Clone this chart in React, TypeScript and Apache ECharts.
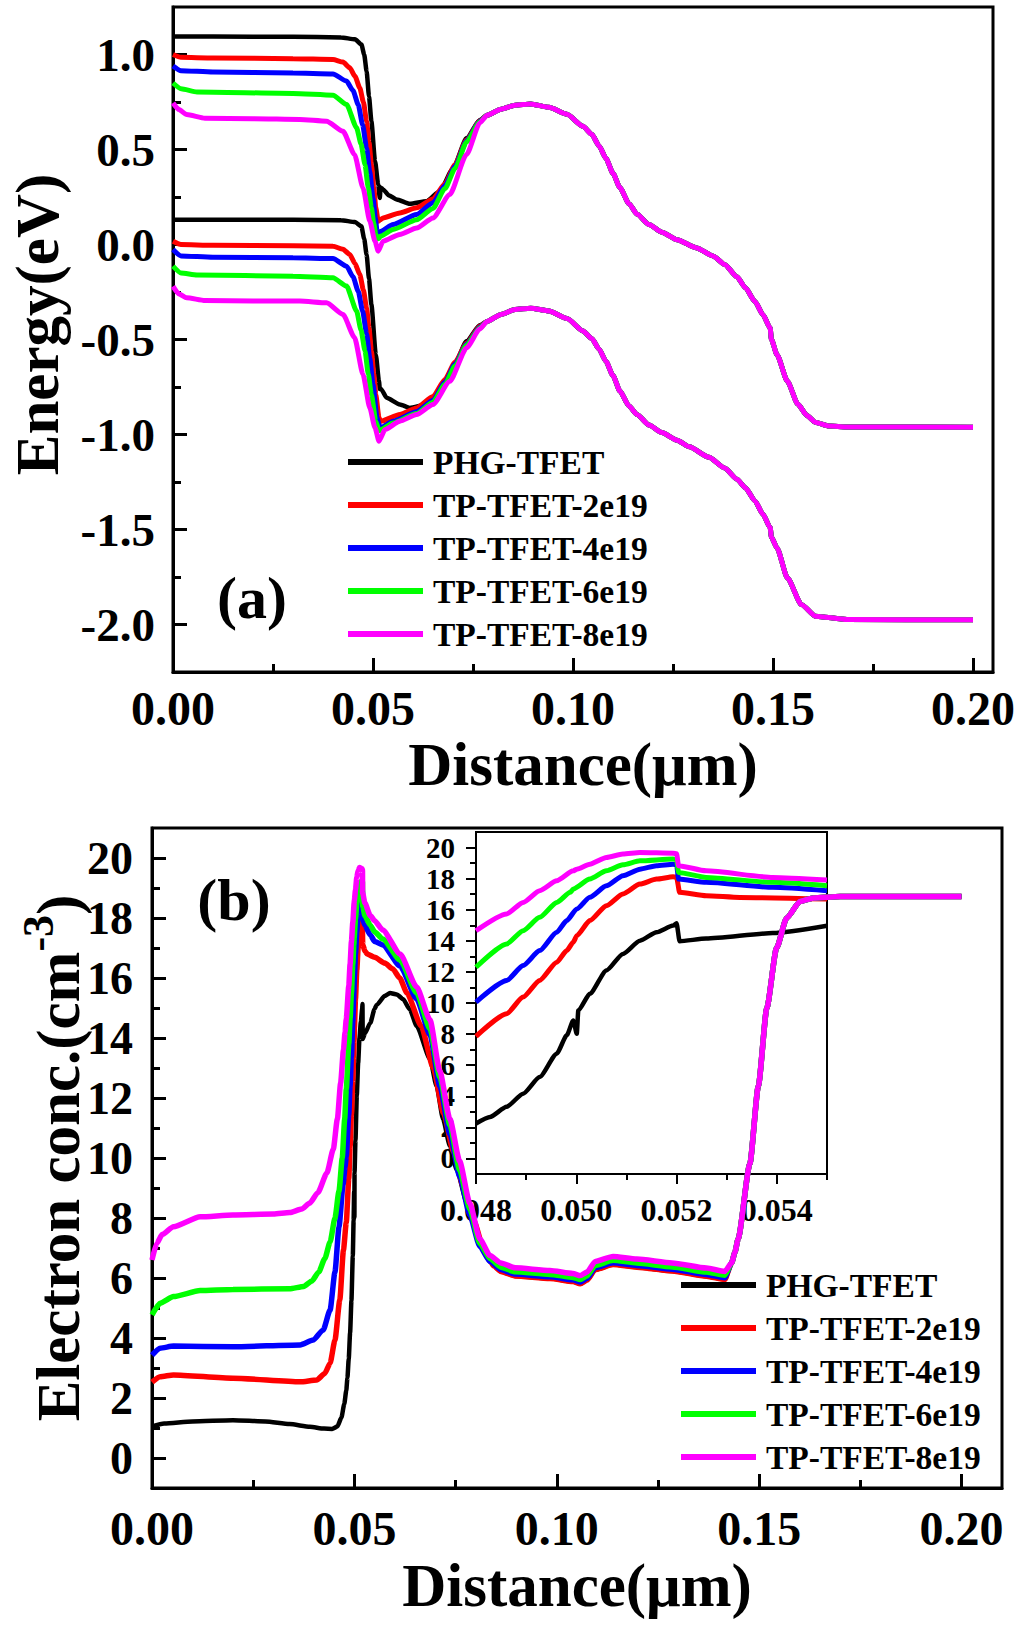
import React, { useEffect, useRef } from 'react';
import * as echarts from 'echarts';

const FONT = '"Liberation Serif", "Times New Roman", Times, serif';

const seriesNames = ['PHG-TFET', 'TP-TFET-2e19', 'TP-TFET-4e19', 'TP-TFET-6e19', 'TP-TFET-8e19'];
const seriesColors = ['#000000', '#ff0000', '#0000ff', '#00ff00', '#ff00ff'];

// ---------- tick values ----------
const aXTicks = [0, 0.05, 0.1, 0.15, 0.2];
const aXMinor = [0.025, 0.075, 0.125, 0.175];
const aYTicks = [-2.0, -1.5, -1.0, -0.5, 0.0, 0.5, 1.0];
const aYMinor = [-1.75, -1.25, -0.75, -0.25, 0.25, 0.75];
const bXTicks = [0, 0.05, 0.1, 0.15, 0.2];
const bXMinor = [0.025, 0.075, 0.125, 0.175];
const bYTicks = [0, 2, 4, 6, 8, 10, 12, 14, 16, 18, 20];
const bYMinor = [1, 3, 5, 7, 9, 11, 13, 15, 17, 19];
const iXTicks = [0.048, 0.05, 0.052, 0.054];
const iXMinor = [0.049, 0.051, 0.053, 0.055];
const iYTicks = [0, 2, 4, 6, 8, 10, 12, 14, 16, 18, 20];
const iYMinor = [1, 3, 5, 7, 9, 11, 13, 15, 17, 19];

// ---------- (a) energy bands [distance um, eV] ----------
const phgCB = [[0,1.095],[0.01,1.095],[0.03,1.093],[0.042,1.09],[0.0455,1.08],[0.0471,1.053],[0.0478,1.0],[0.0484,0.912],[0.049,0.78],[0.0496,0.649],[0.0505,0.44],[0.0513,0.316],[0.0517,0.245],[0.0519,0.3],[0.0525,0.29],[0.054,0.258],[0.0559,0.237],[0.0592,0.214],[0.0634,0.228],[0.0667,0.28],[0.07,0.4],[0.0734,0.56],[0.0767,0.655]];
const tp2CB = [[0,1.0],[0.002,0.985],[0.01,0.982],[0.03,0.978],[0.04,0.974],[0.0425,0.96],[0.0442,0.93],[0.0455,0.885],[0.0467,0.824],[0.0476,0.75],[0.0484,0.649],[0.049,0.54],[0.0496,0.42],[0.0502,0.3],[0.0507,0.193],[0.0513,0.123],[0.0518,0.13],[0.0525,0.14],[0.0567,0.166],[0.0609,0.193],[0.065,0.24],[0.068,0.32],[0.0705,0.42],[0.0734,0.55],[0.0767,0.65]];
const tp4CB = [[0,0.94],[0.002,0.915],[0.01,0.908],[0.03,0.903],[0.04,0.898],[0.0434,0.86],[0.045,0.81],[0.0463,0.737],[0.0474,0.63],[0.0484,0.508],[0.0492,0.38],[0.05,0.245],[0.0506,0.14],[0.051,0.07],[0.0515,0.05],[0.052,0.07],[0.055,0.105],[0.0609,0.158],[0.065,0.22],[0.068,0.31],[0.0705,0.41],[0.0734,0.545],[0.0767,0.648]];
const tp6CB = [[0,0.85],[0.002,0.82],[0.006,0.803],[0.03,0.795],[0.04,0.786],[0.0434,0.737],[0.0459,0.614],[0.047,0.53],[0.048,0.42],[0.0488,0.3],[0.0496,0.193],[0.0502,0.11],[0.0507,0.053],[0.0513,0.03],[0.052,0.045],[0.055,0.079],[0.0609,0.13],[0.065,0.19],[0.068,0.295],[0.0705,0.4],[0.0734,0.54],[0.0767,0.645]];
const tp8CB = [[0,0.745],[0.0015,0.71],[0.0034,0.684],[0.008,0.665],[0.02,0.662],[0.0317,0.658],[0.0384,0.649],[0.0425,0.596],[0.0454,0.473],[0.0475,0.298],[0.0492,0.123],[0.0505,0.017],[0.0513,-0.035],[0.0525,0.017],[0.0567,0.053],[0.0609,0.087],[0.065,0.14],[0.0692,0.263],[0.0734,0.474],[0.0767,0.64]];
const cbTail = [[0.0785,0.68],[0.082,0.712],[0.0855,0.733],[0.0894,0.74],[0.094,0.722],[0.0985,0.685],[0.1025,0.622],[0.1047,0.58],[0.1065,0.52],[0.1082,0.455],[0.11,0.375],[0.1117,0.3],[0.114,0.215],[0.116,0.16],[0.119,0.105],[0.1222,0.065],[0.126,0.025],[0.1309,-0.018],[0.135,-0.06],[0.1379,-0.105],[0.141,-0.17],[0.1431,-0.228],[0.1455,-0.3],[0.1475,-0.37],[0.1493,-0.44],[0.1496,-0.5],[0.151,-0.58],[0.1536,-0.72],[0.1562,-0.84],[0.1585,-0.9],[0.1605,-0.935],[0.164,-0.955],[0.1685,-0.96],[0.2,-0.962]];

const phgVB = [[0,0.13],[0.03,0.13],[0.042,0.128],[0.0455,0.118],[0.0471,0.096],[0.0478,0.03],[0.0484,-0.053],[0.049,-0.18],[0.0496,-0.316],[0.0507,-0.58],[0.0515,-0.72],[0.0517,-0.76],[0.052,-0.76],[0.0534,-0.807],[0.0567,-0.842],[0.0592,-0.86],[0.0634,-0.842],[0.0667,-0.772],[0.07,-0.65],[0.0734,-0.509],[0.0767,-0.425]];
const tp2VB = [[0,0.017],[0.002,0.0],[0.01,-0.004],[0.03,-0.006],[0.04,-0.009],[0.0425,-0.025],[0.0442,-0.053],[0.0455,-0.1],[0.0467,-0.158],[0.0476,-0.24],[0.0484,-0.334],[0.049,-0.44],[0.0496,-0.56],[0.0502,-0.68],[0.0507,-0.79],[0.0515,-0.912],[0.052,-0.93],[0.0567,-0.895],[0.0609,-0.86],[0.065,-0.8],[0.068,-0.71],[0.0705,-0.62],[0.0734,-0.52],[0.0767,-0.43]];
const tp4VB = [[0,-0.026],[0.002,-0.06],[0.01,-0.067],[0.03,-0.07],[0.04,-0.074],[0.0434,-0.114],[0.045,-0.17],[0.0463,-0.246],[0.0474,-0.35],[0.0484,-0.47],[0.0492,-0.6],[0.05,-0.737],[0.051,-0.912],[0.0518,-0.965],[0.055,-0.93],[0.0609,-0.88],[0.065,-0.82],[0.068,-0.725],[0.0705,-0.63],[0.0734,-0.525],[0.0767,-0.435]];
const tp6VB = [[0,-0.114],[0.002,-0.15],[0.006,-0.16],[0.03,-0.167],[0.04,-0.175],[0.0434,-0.219],[0.0459,-0.35],[0.047,-0.45],[0.048,-0.56],[0.0488,-0.68],[0.0496,-0.79],[0.0507,-0.93],[0.0515,-0.98],[0.055,-0.94],[0.0609,-0.89],[0.065,-0.83],[0.068,-0.735],[0.0705,-0.64],[0.0734,-0.53],[0.0767,-0.44]];
const tp8VB = [[0,-0.22],[0.0015,-0.26],[0.0034,-0.28],[0.008,-0.295],[0.02,-0.298],[0.0317,-0.298],[0.0384,-0.307],[0.0425,-0.368],[0.0454,-0.49],[0.0475,-0.684],[0.0492,-0.86],[0.0505,-0.965],[0.0515,-1.035],[0.053,-0.974],[0.0567,-0.93],[0.0609,-0.895],[0.065,-0.842],[0.0692,-0.72],[0.0734,-0.544],[0.0767,-0.445]];
const vbTail = [[0.0785,-0.405],[0.082,-0.368],[0.0855,-0.342],[0.0894,-0.335],[0.094,-0.35],[0.0985,-0.39],[0.1025,-0.455],[0.1047,-0.495],[0.1065,-0.55],[0.1082,-0.614],[0.11,-0.69],[0.1117,-0.77],[0.114,-0.85],[0.116,-0.895],[0.119,-0.95],[0.1222,-0.99],[0.126,-1.03],[0.1291,-1.065],[0.134,-1.12],[0.1379,-1.176],[0.141,-1.235],[0.1431,-1.28],[0.1455,-1.35],[0.1475,-1.42],[0.1493,-1.49],[0.1496,-1.54],[0.151,-1.597],[0.1536,-1.755],[0.1571,-1.895],[0.1606,-1.956],[0.1685,-1.974],[0.2,-1.975]];

// ---------- (b) electron concentration (log10 cm^-3) ----------
const phgHead = [[0,1.05],[0.003,1.15],[0.01,1.22],[0.02,1.26],[0.028,1.22],[0.034,1.13],[0.039,1.04],[0.0425,0.98],[0.0445,0.97],[0.0458,1.05],[0.0468,1.35],[0.0475,1.8]];
const tp2Head = [[0,2.53],[0.002,2.71],[0.0053,2.77],[0.02,2.66],[0.0366,2.54],[0.0407,2.6],[0.0427,2.82],[0.044,3.16],[0.0452,3.93],[0.0464,5.27],[0.0473,6.93]];
const tp4Head = [[0,3.43],[0.002,3.66],[0.0053,3.73],[0.02,3.71],[0.0366,3.77],[0.0398,3.93],[0.0423,4.27],[0.044,4.93],[0.0452,6.2],[0.0462,7.7],[0.0472,9.1],[0.0477,9.7]];
const tp6Head = [[0,4.77],[0.002,5.16],[0.0053,5.38],[0.0119,5.58],[0.02,5.62],[0.034,5.64],[0.0375,5.72],[0.0395,5.9],[0.0412,6.2],[0.0427,6.65],[0.044,7.2],[0.0452,8.0],[0.0462,8.9],[0.047,10.0],[0.0476,11.3]];
const tp8Head = [[0,6.6],[0.0012,7.16],[0.0025,7.45],[0.0053,7.71],[0.0119,8.04],[0.02,8.1],[0.03,8.13],[0.034,8.18],[0.037,8.3],[0.039,8.5],[0.041,8.85],[0.0432,9.5],[0.0448,10.3],[0.0458,11.3],[0.0466,12.5],[0.0473,13.6],[0.0477,14.2]];

// zoomed region shown in the inset (0.048 - 0.055 um)
const phgMid = [[0.048,2.25],[0.04828,2.67],[0.04861,3.32],[0.04894,4.17],[0.04927,5.24],[0.04961,6.74],[0.04981,7.92],[0.04994,8.88],[0.05001,8.02],[0.05004,9.52],[0.05027,10.59],[0.0506,12.09],[0.05093,13.16],[0.05127,14.01],[0.0516,14.55],[0.05193,14.98],[0.052,15.13],[0.05206,13.97],[0.05259,14.15],[0.05392,14.5],[0.055,14.97]];
const tp2Mid = [[0.048,7.85],[0.04861,9.31],[0.04894,10.38],[0.04927,11.45],[0.04961,12.62],[0.04981,13.37],[0.04994,13.91],[0.05001,14.33],[0.05027,15.3],[0.0506,16.26],[0.05093,17.01],[0.05127,17.65],[0.0516,17.97],[0.05193,18.12],[0.052,18.1],[0.05206,17.12],[0.05259,16.9],[0.05326,16.79],[0.055,16.69]];
const tp4Mid = [[0.048,10.06],[0.04861,11.45],[0.04894,12.41],[0.04927,13.37],[0.04961,14.55],[0.04981,15.3],[0.05001,16.05],[0.05027,16.8],[0.0506,17.54],[0.05093,18.19],[0.05127,18.61],[0.0516,18.83],[0.05193,18.93],[0.052,18.9],[0.05204,17.97],[0.05259,17.76],[0.05392,17.44],[0.055,17.22]];
const tp6Mid = [[0.048,12.3],[0.04861,13.8],[0.04894,14.65],[0.04927,15.51],[0.04961,16.47],[0.04988,17.12],[0.04994,17.33],[0.05027,17.97],[0.0506,18.5],[0.05093,18.89],[0.05127,19.15],[0.05193,19.26],[0.052,19.22],[0.05204,18.4],[0.05259,18.08],[0.05392,17.76],[0.055,17.54]];
const tp8Mid = [[0.048,14.65],[0.04861,15.73],[0.04894,16.47],[0.04927,17.22],[0.04961,17.86],[0.04994,18.5],[0.05001,18.61],[0.05027,18.93],[0.0506,19.36],[0.05093,19.58],[0.05127,19.68],[0.05193,19.64],[0.052,19.6],[0.05204,18.83],[0.05259,18.5],[0.05392,18.08],[0.055,17.91]];

const phgPost = [[0.0555,15.1],[0.0575,15.4],[0.0588,15.5],[0.0605,15.45],[0.062,15.3],[0.0637,14.95],[0.0654,14.4],[0.0687,13.3],[0.0703,12.4],[0.0719,11.3],[0.0736,10.4],[0.0753,9.6],[0.0778,8.5],[0.081,7.2],[0.0835,6.55]];
const tp2Post = [[0.0575,16.5],[0.0595,16.3],[0.0612,16.0],[0.063,15.5],[0.0665,14.4],[0.0695,13.0],[0.072,11.5],[0.0745,10.2],[0.077,9.0],[0.0795,7.9],[0.082,6.95],[0.0845,6.4]];
const tp4Post = [[0.057,17.1],[0.0613,16.4],[0.0654,15.3],[0.0687,14.1],[0.0711,12.4],[0.0736,10.8],[0.076,9.4],[0.0785,8.1],[0.081,7.05],[0.0835,6.55]];
const tp6Post = [[0.057,17.3],[0.0613,16.6],[0.0654,15.5],[0.0687,14.3],[0.0711,12.7],[0.0736,11.1],[0.076,9.6],[0.0785,8.3],[0.081,7.15],[0.0835,6.65]];
const tp8Post = [[0.057,17.6],[0.0613,16.8],[0.0654,15.7],[0.0687,14.6],[0.0711,12.9],[0.0736,11.3],[0.076,9.9],[0.0785,8.5],[0.081,7.3],[0.0835,6.75]];

const phgChan = [[0.0862,6.22],[0.0897,6.07],[0.0983,5.98],[0.104,5.88],[0.1058,5.81],[0.1075,5.93],[0.1095,6.28],[0.1139,6.45],[0.1198,6.36],[0.1285,6.23],[0.137,6.06],[0.1415,5.95]];
const tp2Chan = [[0.0862,6.22],[0.0897,6.07],[0.0983,5.98],[0.104,5.88],[0.1058,5.81],[0.1075,5.93],[0.1095,6.28],[0.1139,6.45],[0.1198,6.36],[0.1285,6.23],[0.137,6.06],[0.1415,5.95]];
const tp4Chan = [[0.0862,6.28],[0.0897,6.13],[0.0983,6.04],[0.104,5.94],[0.1058,5.87],[0.1075,5.99],[0.1095,6.34],[0.1139,6.51],[0.1198,6.42],[0.1285,6.29],[0.137,6.12],[0.1415,6.01]];
const tp6Chan = [[0.0862,6.36],[0.0897,6.21],[0.0983,6.12],[0.104,6.02],[0.1058,5.95],[0.1075,6.07],[0.1095,6.42],[0.1139,6.59],[0.1198,6.5],[0.1285,6.37],[0.137,6.2],[0.1415,6.09]];
const tp8Chan = [[0.0862,6.5],[0.0897,6.34],[0.0983,6.25],[0.104,6.15],[0.1058,6.08],[0.1075,6.2],[0.1095,6.55],[0.1139,6.72],[0.1198,6.63],[0.1285,6.5],[0.137,6.33],[0.1415,6.22]];
const drainRise = [[0.1432,6.5],[0.144,6.85],[0.1448,7.3],[0.1477,9.8],[0.1498,12.4],[0.1519,15.0],[0.1543,17.0],[0.1568,18.0],[0.1601,18.55],[0.1634,18.67],[0.17,18.72],[0.2,18.72]];

const bandsA = [
  [phgCB, phgVB], [tp2CB, tp2VB], [tp4CB, tp4VB], [tp6CB, tp6VB], [tp8CB, tp8VB],
];
const concB = [
  [phgHead, phgMid, phgPost, phgChan],
  [tp2Head, tp2Mid, tp2Post, tp2Chan],
  [tp4Head, tp4Mid, tp4Post, tp4Chan],
  [tp6Head, tp6Mid, tp6Post, tp6Chan],
  [tp8Head, tp8Mid, tp8Post, tp8Chan],
];

const txt = (size: number) => ({ fontSize: size, fontWeight: 'bold' as const, fontFamily: FONT, color: '#000' });

function majorX(grid: number, min: number, max: number, ticks: number[], o: any) {
  return {
    type: 'value', gridIndex: grid, min, max, position: 'bottom',
    axisLine: { show: true, onZero: false, lineStyle: { color: '#000', width: o.lw } },
    axisTick: { show: true, inside: o.inside, length: o.len, customValues: ticks, lineStyle: { color: '#000', width: o.lw } },
    axisLabel: { show: true, customValues: ticks, margin: o.margin, formatter: (v: number) => v.toFixed(o.dec), ...txt(o.fs), lineHeight: o.lh },
    splitLine: { show: false },
    name: o.name, nameLocation: 'middle', nameGap: o.nameGap, nameMoveOverlap: false,
    nameTextStyle: { ...txt(61), lineHeight: 50 },
  };
}
function minorX(grid: number, min: number, max: number, ticks: number[], o: any) {
  return {
    type: 'value', gridIndex: grid, min, max, position: 'bottom',
    axisLine: { show: false, onZero: false },
    axisTick: { show: true, inside: o.inside, length: o.len, customValues: ticks, lineStyle: { color: '#000', width: o.lw } },
    axisLabel: { show: false }, splitLine: { show: false },
  };
}
function majorY(grid: number, min: number, max: number, ticks: number[], o: any) {
  return {
    type: 'value', gridIndex: grid, min, max, position: 'left',
    axisLine: { show: true, onZero: false, lineStyle: { color: '#000', width: o.lw } },
    axisTick: { show: true, inside: o.inside, length: o.len, customValues: ticks, lineStyle: { color: '#000', width: o.lw } },
    axisLabel: { show: true, customValues: ticks, margin: o.margin, formatter: (v: number) => v.toFixed(o.dec), ...txt(o.fs) },
    splitLine: { show: false },
    name: o.name, nameLocation: 'middle', nameGap: o.nameGap, nameRotate: 90, nameMoveOverlap: false,
    nameTextStyle: o.nameStyle,
  };
}
function minorY(grid: number, min: number, max: number, ticks: number[], o: any) {
  return {
    type: 'value', gridIndex: grid, min, max, position: 'left',
    axisLine: { show: false, onZero: false },
    axisTick: { show: true, inside: o.inside, length: o.len, customValues: ticks, lineStyle: { color: '#000', width: o.lw } },
    axisLabel: { show: false }, splitLine: { show: false },
  };
}

function lineSeries(name: string, color: string, data: number[][], xi: number, yi: number, width: number) {
  return {
    type: 'line', name, data, xAxisIndex: xi, yAxisIndex: yi,
    showSymbol: false, symbol: 'none', smooth: 0.2, smoothMonotone: 'x',
    itemStyle: { color }, lineStyle: { color, width },
    emphasis: { disabled: true }, z: 3,
  };
}

function buildOption() {
  const series: any[] = [];
  bandsA.forEach((pair, i) => {
    series.push(lineSeries(seriesNames[i], seriesColors[i], [...pair[0], ...cbTail], 0, 0, i === 0 ? 4.5 : 5));
    series.push(lineSeries(seriesNames[i], seriesColors[i], [...pair[1], ...vbTail], 0, 0, i === 0 ? 4.5 : 5));
  });
  concB.forEach((parts, i) => {
    series.push(lineSeries(seriesNames[i], seriesColors[i], parts[1], 4, 4, i === 0 ? 4.5 : 5));
  });
  concB.forEach((parts, i) => {
    series.push(lineSeries(seriesNames[i], seriesColors[i], [...parts[0], ...parts[1], ...parts[2], ...parts[3], ...drainRise], 2, 2, i === 0 ? 4.5 : 5.5));
  });

  const legendBase = (left: number, top: number) => ({
    show: true, orient: 'vertical', left, top, padding: 0,
    itemWidth: 75, itemHeight: 6, itemGap: 9, icon: 'rect',
    selectedMode: false,
    data: seriesNames,
    textStyle: { ...txt(33.5), lineHeight: 32, padding: [0, 0, 0, 5] },
  });

  return {
    animation: false,
    backgroundColor: '#ffffff',
    textStyle: { fontFamily: FONT },
    grid: [
      { left: 173, top: 7, width: 820, height: 665, show: true, borderColor: '#000', borderWidth: 3, backgroundColor: 'transparent', containLabel: false, outerBoundsMode: 'none' },
      { left: 152, top: 828, width: 850, height: 660, show: true, borderColor: '#000', borderWidth: 3, backgroundColor: 'transparent', containLabel: false, outerBoundsMode: 'none' },
      { left: 476, top: 832, width: 351, height: 342, show: true, borderColor: '#000', borderWidth: 2, backgroundColor: 'transparent', containLabel: false, outerBoundsMode: 'none' },
    ],
    xAxis: [
      majorX(0, 0, 0.205, aXTicks, { lw: 3, inside: true, len: 14, margin: 16, lh: 40, dec: 2, fs: 48, name: 'Distance(μm)', nameGap: 67 }),
      minorX(0, 0, 0.205, aXMinor, { lw: 3, inside: true, len: 8 }),
      majorX(1, 0, 0.21, bXTicks, { lw: 3, inside: true, len: 14, margin: 20, lh: 40, dec: 2, fs: 48, name: 'Distance(μm)', nameGap: 72 }),
      minorX(1, 0, 0.21, bXMinor, { lw: 3, inside: true, len: 8 }),
      majorX(2, 0.048, 0.055, iXTicks, { lw: 2, inside: false, len: 10, margin: 20, lh: 32, dec: 3, fs: 32, name: '', nameGap: 0 }),
      minorX(2, 0.048, 0.055, iXMinor, { lw: 2, inside: false, len: 6 }),
    ],
    yAxis: [
      majorY(0, -2.25, 1.25, aYTicks, { lw: 3, inside: true, len: 14, margin: 18, dec: 1, fs: 47, name: 'Energy(eV)', nameGap: 105, nameStyle: { ...txt(61), padding: [0, 0, 0, 30] } }),
      minorY(0, -2.25, 1.25, aYMinor, { lw: 3, inside: true, len: 8 }),
      majorY(1, -1, 21, bYTicks, {
        lw: 3, inside: true, len: 14, margin: 19, dec: 0, fs: 46,
        name: '{a|Electron conc.(cm}{s|-3}{a|)}', nameGap: 52,
        nameStyle: {
          ...txt(61),
          rich: {
            a: txt(61),
            s: { ...txt(44), verticalAlign: 'top', padding: [0, 0, 40, 0] },
          },
        },
      }),
      minorY(1, -1, 21, bYMinor, { lw: 3, inside: true, len: 8 }),
      majorY(2, -1, 21, iYTicks, { lw: 2, inside: false, len: 10, margin: 21, dec: 0, fs: 29, name: '', nameGap: 0, nameStyle: txt(10) }),
      minorY(2, -1, 21, iYMinor, { lw: 2, inside: false, len: 6 }),
    ],
    legend: [legendBase(348, 445), legendBase(681, 1268)],
    graphic: [
      { type: 'text', x: 252, y: 598, style: { text: '(a)', font: `bold 60px ${FONT}`, fill: '#000', textAlign: 'center', textVerticalAlign: 'middle' } },
      { type: 'text', x: 234, y: 900, style: { text: '(b)', font: `bold 60px ${FONT}`, fill: '#000', textAlign: 'center', textVerticalAlign: 'middle' } },
    ],
    series,
  };
}

export default function App() {
  const ref = useRef<HTMLDivElement>(null);
  useEffect(() => {
    document.body.style.margin = '0';
    const chart = echarts.init(ref.current as HTMLDivElement, null, { renderer: 'svg' });
    chart.setOption(buildOption() as any);
    return () => chart.dispose();
  }, []);
  return (
    <div
      ref={ref}
      style={{ position: 'absolute', left: 0, top: 0, width: 1025, height: 1634, background: '#fff' }}
    />
  );
}
